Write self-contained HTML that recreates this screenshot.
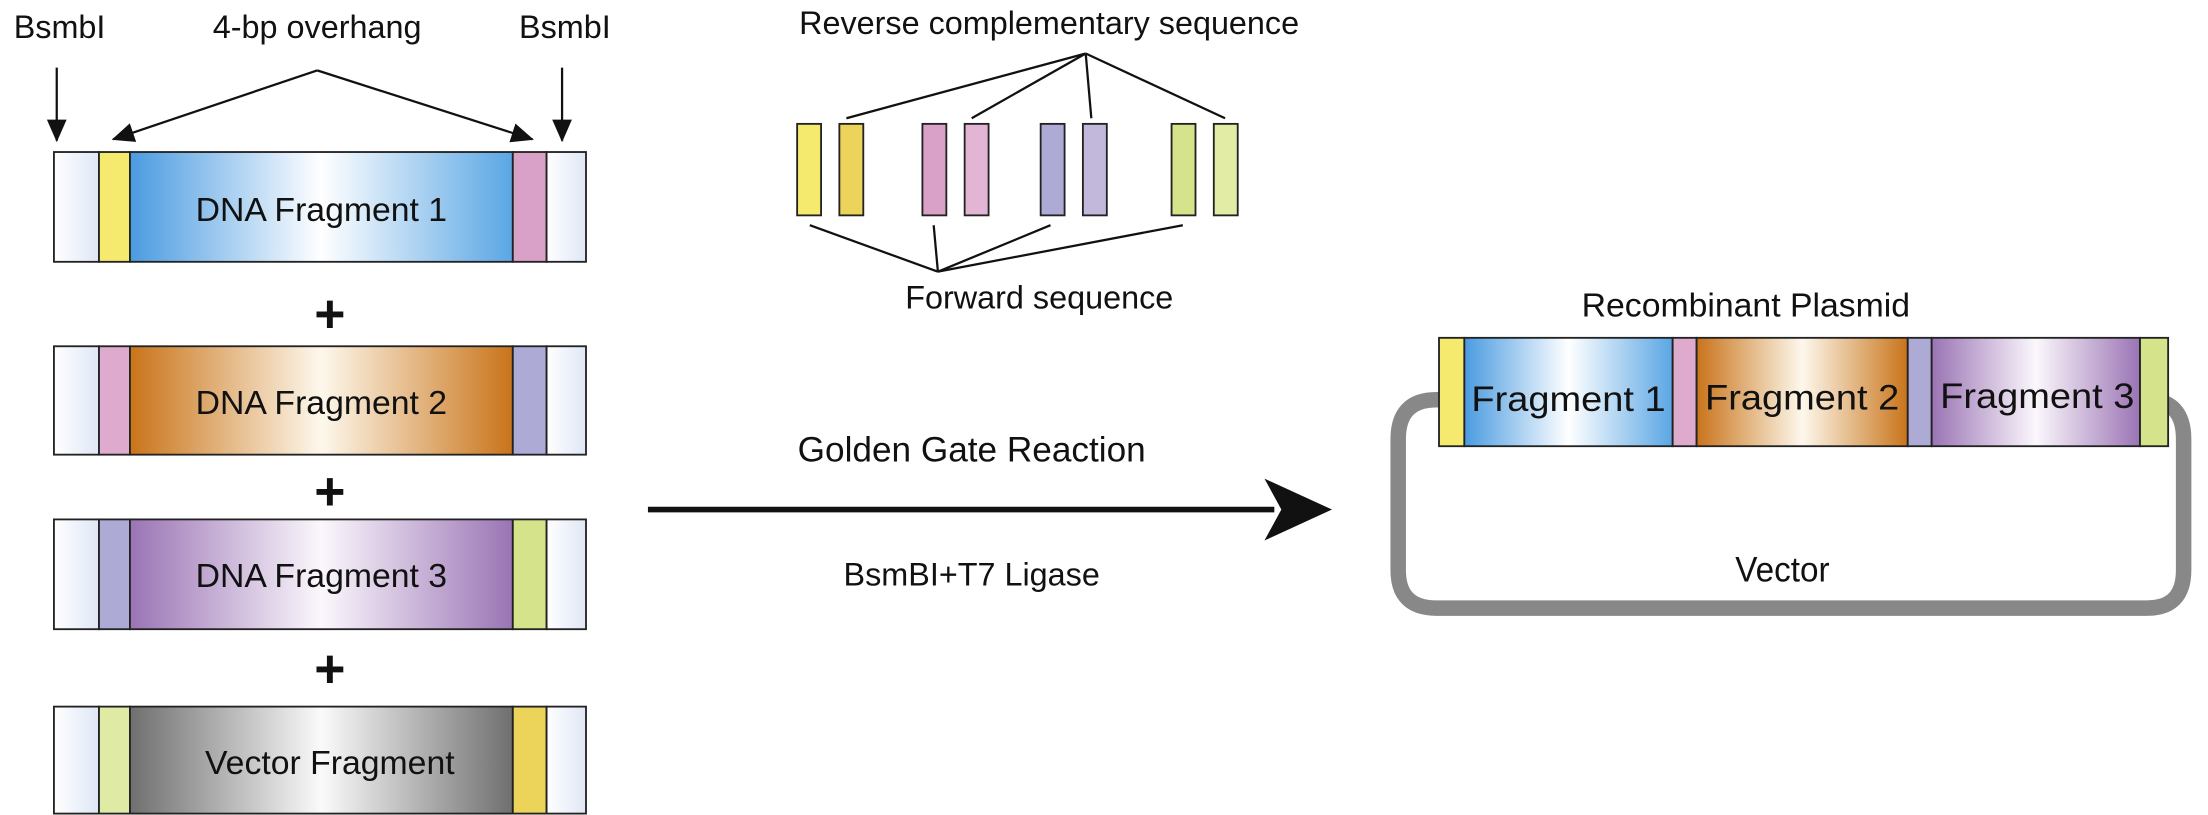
<!DOCTYPE html>
<html><head><meta charset="utf-8"><style>html,body{margin:0;padding:0;background:#fff}svg{display:block}text{font-family:"Liberation Sans",Arial,sans-serif;fill:#111}</style></head>
<body>
<svg width="2208" height="815" viewBox="0 0 1568 579" xmlns="http://www.w3.org/2000/svg">
<defs>
<linearGradient id="w" x1="0" x2="1"><stop offset="0" stop-color="#fff"/><stop offset="1" stop-color="#dfe6f5"/></linearGradient>
<linearGradient id="blue" x1="0" x2="1"><stop offset="0" stop-color="#4a9be0"/><stop offset="0.5" stop-color="#fff"/><stop offset="1" stop-color="#5aa6e4"/></linearGradient>
<linearGradient id="org" x1="0" x2="1"><stop offset="0" stop-color="#c9741a"/><stop offset="0.5" stop-color="#fdf8ec"/><stop offset="1" stop-color="#c9741a"/></linearGradient>
<linearGradient id="pur" x1="0" x2="1"><stop offset="0" stop-color="#9a74b4"/><stop offset="0.5" stop-color="#fbf7fc"/><stop offset="1" stop-color="#9a74b4"/></linearGradient>
<linearGradient id="gry" x1="0" x2="1"><stop offset="0" stop-color="#6f6f6f"/><stop offset="0.5" stop-color="#fafafa"/><stop offset="1" stop-color="#6f6f6f"/></linearGradient>
<marker id="ah" markerWidth="16" markerHeight="14" refX="15" refY="7" orient="auto" markerUnits="userSpaceOnUse" viewBox="0 0 16 14"><path d="M0,0 L16,7 L0,14z" fill="#111"/></marker>
</defs>
<g stroke="#222" stroke-width="1.3">
<g transform="translate(0,108)">
<rect x="38" y="0" width="32" height="78" fill="url(#w)"/><rect x="70" y="0" width="22" height="78" fill="#f5ea6e"/><rect x="92" y="0" width="272" height="78" fill="url(#blue)"/><rect x="364" y="0" width="24" height="78" fill="#d9a0c8"/><rect x="388" y="0" width="28" height="78" fill="url(#w)"/>
</g>
<g transform="translate(0,246)">
<rect x="38" y="0" width="32" height="77" fill="url(#w)"/><rect x="70" y="0" width="22" height="77" fill="#deaacd"/><rect x="92" y="0" width="272" height="77" fill="url(#org)"/><rect x="364" y="0" width="24" height="77" fill="#aeaad6"/><rect x="388" y="0" width="28" height="77" fill="url(#w)"/>
</g>
<g transform="translate(0,369)">
<rect x="38" y="0" width="32" height="78" fill="url(#w)"/><rect x="70" y="0" width="22" height="78" fill="#aeaad6"/><rect x="92" y="0" width="272" height="78" fill="url(#pur)"/><rect x="364" y="0" width="24" height="78" fill="#d5e48a"/><rect x="388" y="0" width="28" height="78" fill="url(#w)"/>
</g>
<g transform="translate(0,502)">
<rect x="38" y="0" width="32" height="76" fill="url(#w)"/><rect x="70" y="0" width="22" height="76" fill="#dfeaa4"/><rect x="92" y="0" width="272" height="76" fill="url(#gry)"/><rect x="364" y="0" width="24" height="76" fill="#ecd35a"/><rect x="388" y="0" width="28" height="76" fill="url(#w)"/>
</g>
<rect x="566" y="88" width="17" height="65" fill="#f5ea6e"/><rect x="596" y="88" width="17" height="65" fill="#ecd35a"/>
<rect x="655" y="88" width="17" height="65" fill="#d9a0c8"/><rect x="685" y="88" width="17" height="65" fill="#e2b5d4"/>
<rect x="739" y="88" width="17" height="65" fill="#aeaad6"/><rect x="769" y="88" width="17" height="65" fill="#c2b8dc"/>
<rect x="832" y="88" width="17" height="65" fill="#d5e48a"/><rect x="862" y="88" width="17" height="65" fill="#e2eca4"/>
<path d="M1022,284 H1020 Q993,284 993,312 V405 Q993,432 1020,432 H1525 Q1551,432 1551,405 V312 Q1551,284 1525,284 H1540" fill="none" stroke="#888" stroke-width="11"/>
<rect x="1022" y="240" width="18" height="77" fill="#f5ea6e"/><rect x="1040" y="240" width="148" height="77" fill="url(#blue)"/><rect x="1188" y="240" width="17" height="77" fill="#deaacd"/><rect x="1205" y="240" width="150" height="77" fill="url(#org)"/><rect x="1355" y="240" width="17" height="77" fill="#aeaad6"/><rect x="1372" y="240" width="148" height="77" fill="url(#pur)"/><rect x="1520" y="240" width="20" height="77" fill="#d5e48a"/>
</g>
<g stroke="#111" stroke-width="1.6" fill="none">
<line x1="40" y1="48" x2="40" y2="100" marker-end="url(#ah)"/>
<line x1="399" y1="48" x2="399" y2="100" marker-end="url(#ah)"/>
<line x1="225" y1="50" x2="80" y2="99" marker-end="url(#ah)"/>
<line x1="225" y1="50" x2="378" y2="99" marker-end="url(#ah)"/>
<line x1="771" y1="38" x2="601" y2="84"/><line x1="771" y1="38" x2="690" y2="84"/><line x1="771" y1="38" x2="775" y2="84"/><line x1="771" y1="38" x2="870" y2="84"/>
<line x1="666" y1="193" x2="575" y2="160"/><line x1="666" y1="193" x2="663" y2="160"/><line x1="666" y1="193" x2="746" y2="160"/><line x1="666" y1="193" x2="840" y2="160"/>
</g>
<line x1="460" y1="362" x2="905" y2="362" stroke="#111" stroke-width="4"/>
<path d="M898,340 L946,362 L898,384 L910,362z" fill="#111"/>
<g font-size="23">
<text x="42" y="27" text-anchor="middle">BsmbI</text>
<text x="401" y="27" text-anchor="middle">BsmbI</text>
<text x="225" y="27" text-anchor="middle">4-bp overhang</text>
<text x="745" y="24" text-anchor="middle">Reverse complementary sequence</text>
<text x="738" y="219" text-anchor="middle">Forward sequence</text>
<text x="228" y="157" text-anchor="middle" font-size="24">DNA Fragment 1</text>
<text x="228" y="294" text-anchor="middle" font-size="24">DNA Fragment 2</text>
<text x="228" y="417" text-anchor="middle" font-size="24">DNA Fragment 3</text>
<text x="234" y="550" text-anchor="middle" font-size="24">Vector Fragment</text>
<text x="690" y="328" text-anchor="middle" font-size="25">Golden Gate Reaction</text>
<text x="690" y="416" text-anchor="middle">BsmBI+T7 Ligase</text>
<text x="1240" y="225" text-anchor="middle" font-size="24">Recombinant Plasmid</text>
<text x="1114" y="292" text-anchor="middle" font-size="25" textLength="138" lengthAdjust="spacingAndGlyphs">Fragment 1</text>
<text x="1280" y="291" text-anchor="middle" font-size="25" textLength="138" lengthAdjust="spacingAndGlyphs">Fragment 2</text>
<text x="1447" y="290" text-anchor="middle" font-size="25" textLength="138" lengthAdjust="spacingAndGlyphs">Fragment 3</text>
<text x="1266" y="413" text-anchor="middle" font-size="25" textLength="67" lengthAdjust="spacingAndGlyphs">Vector</text>
</g>
<g font-size="38" font-weight="bold" text-anchor="middle">
<text x="234" y="236">+</text><text x="234" y="362">+</text><text x="234" y="488">+</text>
</g>
</svg>
</body></html>
